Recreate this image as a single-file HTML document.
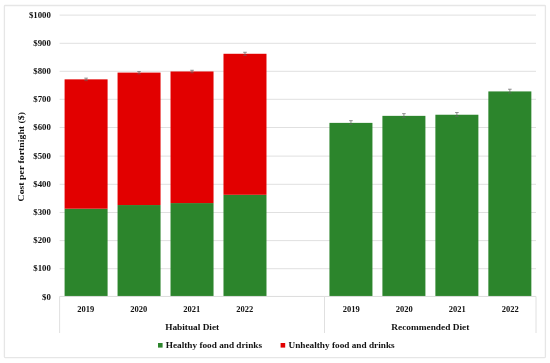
<!DOCTYPE html>
<html><head><meta charset="utf-8"><title>Cost per fortnight</title>
<style>
html,body{margin:0;padding:0;background:#fff;}
svg{display:block;}
.t{font-family:"Liberation Serif","DejaVu Serif",serif;font-weight:bold;fill:#111;}
</style></head><body>
<svg width="550" height="363" viewBox="0 0 550 363">
<rect width="550" height="363" fill="#fff"/>
<rect x="4.4" y="5.5" width="541" height="352.1" rx="0.8" fill="#fff" stroke="#e6e6e6" stroke-width="1.3"/>
<line x1="59.6" x2="536.0" y1="268.70" y2="268.70" stroke="#e0e0e0" stroke-width="1"/>
<line x1="59.6" x2="536.0" y1="240.60" y2="240.60" stroke="#e0e0e0" stroke-width="1"/>
<line x1="59.6" x2="536.0" y1="212.50" y2="212.50" stroke="#e0e0e0" stroke-width="1"/>
<line x1="59.6" x2="536.0" y1="184.30" y2="184.30" stroke="#e0e0e0" stroke-width="1"/>
<line x1="59.6" x2="536.0" y1="156.10" y2="156.10" stroke="#e0e0e0" stroke-width="1"/>
<line x1="59.6" x2="536.0" y1="127.50" y2="127.50" stroke="#e0e0e0" stroke-width="1"/>
<line x1="59.6" x2="536.0" y1="99.30" y2="99.30" stroke="#e0e0e0" stroke-width="1"/>
<line x1="59.6" x2="536.0" y1="71.30" y2="71.30" stroke="#e0e0e0" stroke-width="1"/>
<line x1="59.6" x2="536.0" y1="43.30" y2="43.30" stroke="#e0e0e0" stroke-width="1"/>
<line x1="59.6" x2="536.0" y1="15.10" y2="15.10" stroke="#e0e0e0" stroke-width="1"/>
<rect x="64.59" y="208.70" width="43.0" height="87.75" fill="#2c852c"/>
<rect x="64.59" y="79.35" width="43.0" height="129.35" fill="#e20000"/>
<g stroke="#666" stroke-width="0.8" fill="none" opacity="0.9"><line x1="86.09" x2="86.09" y1="78.15" y2="80.65"/><line x1="84.29" x2="87.89" y1="78.15" y2="78.15"/><line x1="84.29" x2="87.89" y1="80.65" y2="80.65" opacity="0.7"/></g>
<rect x="329.44" y="122.88" width="43.0" height="173.57" fill="#2c852c"/>
<g stroke="#666" stroke-width="0.8" fill="none" opacity="0.9"><line x1="350.94" x2="350.94" y1="120.68" y2="124.58"/><line x1="349.13" x2="352.74" y1="120.68" y2="120.68"/><line x1="349.13" x2="352.74" y1="124.58" y2="124.58" opacity="0.7"/></g>
<rect x="117.56" y="205.05" width="43.0" height="91.40" fill="#2c852c"/>
<rect x="117.56" y="72.60" width="43.0" height="132.44" fill="#e20000"/>
<g stroke="#666" stroke-width="0.8" fill="none" opacity="0.9"><line x1="139.06" x2="139.06" y1="71.40" y2="73.90"/><line x1="137.25" x2="140.86" y1="71.40" y2="71.40"/><line x1="137.25" x2="140.86" y1="73.90" y2="73.90" opacity="0.7"/></g>
<rect x="382.41" y="115.86" width="43.0" height="180.59" fill="#2c852c"/>
<g stroke="#666" stroke-width="0.8" fill="none" opacity="0.9"><line x1="403.91" x2="403.91" y1="113.66" y2="117.56"/><line x1="402.11" x2="405.71" y1="113.66" y2="113.66"/><line x1="402.11" x2="405.71" y1="117.56" y2="117.56" opacity="0.7"/></g>
<rect x="170.53" y="203.08" width="43.0" height="93.37" fill="#2c852c"/>
<rect x="170.53" y="71.48" width="43.0" height="131.60" fill="#e20000"/>
<g stroke="#666" stroke-width="0.8" fill="none" opacity="0.9"><line x1="192.03" x2="192.03" y1="70.28" y2="72.78"/><line x1="190.22" x2="193.83" y1="70.28" y2="70.28"/><line x1="190.22" x2="193.83" y1="72.78" y2="72.78" opacity="0.7"/></g>
<rect x="435.38" y="114.74" width="43.0" height="181.71" fill="#2c852c"/>
<g stroke="#666" stroke-width="0.8" fill="none" opacity="0.9"><line x1="456.88" x2="456.88" y1="112.54" y2="116.44"/><line x1="455.07" x2="458.68" y1="112.54" y2="112.54"/><line x1="455.07" x2="458.68" y1="116.44" y2="116.44" opacity="0.7"/></g>
<rect x="223.49" y="194.80" width="43.0" height="101.65" fill="#2c852c"/>
<rect x="223.49" y="53.78" width="43.0" height="141.01" fill="#e20000"/>
<g stroke="#666" stroke-width="0.8" fill="none" opacity="0.9"><line x1="244.99" x2="244.99" y1="52.28" y2="55.38"/><line x1="243.19" x2="246.79" y1="52.28" y2="52.28"/><line x1="243.19" x2="246.79" y1="55.38" y2="55.38" opacity="0.7"/></g>
<rect x="488.35" y="91.42" width="43.0" height="205.03" fill="#2c852c"/>
<g stroke="#666" stroke-width="0.8" fill="none" opacity="0.9"><line x1="509.85" x2="509.85" y1="89.22" y2="93.12"/><line x1="508.05" x2="511.65" y1="89.22" y2="89.22"/><line x1="508.05" x2="511.65" y1="93.12" y2="93.12" opacity="0.7"/></g>
<line x1="59.6" x2="536.0" y1="296.45" y2="296.45" stroke="#dcdcdc" stroke-width="1"/>
<line x1="59.6" x2="59.6" y1="296.45" y2="333" stroke="#e0e0e0" stroke-width="1"/>
<line x1="324.5" x2="324.5" y1="296.45" y2="333" stroke="#e0e0e0" stroke-width="1"/>
<line x1="536" x2="536" y1="296.45" y2="333" stroke="#e0e0e0" stroke-width="1"/>
<text x="50.9" y="299.50" text-anchor="end" font-size="8.6" class="t" textLength="8.8" lengthAdjust="spacingAndGlyphs">$0</text>
<text x="50.9" y="271.30" text-anchor="end" font-size="8.6" class="t" textLength="17.6" lengthAdjust="spacingAndGlyphs">$100</text>
<text x="50.9" y="243.10" text-anchor="end" font-size="8.6" class="t" textLength="17.6" lengthAdjust="spacingAndGlyphs">$200</text>
<text x="50.9" y="214.90" text-anchor="end" font-size="8.6" class="t" textLength="17.6" lengthAdjust="spacingAndGlyphs">$300</text>
<text x="50.9" y="186.70" text-anchor="end" font-size="8.6" class="t" textLength="17.6" lengthAdjust="spacingAndGlyphs">$400</text>
<text x="50.9" y="158.50" text-anchor="end" font-size="8.6" class="t" textLength="17.6" lengthAdjust="spacingAndGlyphs">$500</text>
<text x="50.9" y="130.30" text-anchor="end" font-size="8.6" class="t" textLength="17.6" lengthAdjust="spacingAndGlyphs">$600</text>
<text x="50.9" y="102.10" text-anchor="end" font-size="8.6" class="t" textLength="17.6" lengthAdjust="spacingAndGlyphs">$700</text>
<text x="50.9" y="73.90" text-anchor="end" font-size="8.6" class="t" textLength="17.6" lengthAdjust="spacingAndGlyphs">$800</text>
<text x="50.9" y="45.70" text-anchor="end" font-size="8.6" class="t" textLength="17.6" lengthAdjust="spacingAndGlyphs">$900</text>
<text x="50.9" y="17.50" text-anchor="end" font-size="8.6" class="t" textLength="22.0" lengthAdjust="spacingAndGlyphs">$1000</text>
<text x="85.79" y="311.8" text-anchor="middle" font-size="8.6" class="t" textLength="17" lengthAdjust="spacingAndGlyphs">2019</text>
<text x="351.24" y="311.8" text-anchor="middle" font-size="8.6" class="t" textLength="17" lengthAdjust="spacingAndGlyphs">2019</text>
<text x="138.75" y="311.8" text-anchor="middle" font-size="8.6" class="t" textLength="17" lengthAdjust="spacingAndGlyphs">2020</text>
<text x="404.21" y="311.8" text-anchor="middle" font-size="8.6" class="t" textLength="17" lengthAdjust="spacingAndGlyphs">2020</text>
<text x="191.72" y="311.8" text-anchor="middle" font-size="8.6" class="t" textLength="17" lengthAdjust="spacingAndGlyphs">2021</text>
<text x="457.18" y="311.8" text-anchor="middle" font-size="8.6" class="t" textLength="17" lengthAdjust="spacingAndGlyphs">2021</text>
<text x="244.69" y="311.8" text-anchor="middle" font-size="8.6" class="t" textLength="17" lengthAdjust="spacingAndGlyphs">2022</text>
<text x="510.15" y="311.8" text-anchor="middle" font-size="8.6" class="t" textLength="17" lengthAdjust="spacingAndGlyphs">2022</text>
<text x="192.2" y="330.1" text-anchor="middle" font-size="8.6" class="t" textLength="54" lengthAdjust="spacingAndGlyphs">Habitual Diet</text>
<text x="430.3" y="330.1" text-anchor="middle" font-size="8.6" class="t" textLength="78" lengthAdjust="spacingAndGlyphs">Recommended Diet</text>
<text transform="translate(23.9,156.7) rotate(-90)" text-anchor="middle" font-size="9.2" class="t" textLength="89.5" lengthAdjust="spacingAndGlyphs">Cost per fortnight ($)</text>
<rect x="158" y="343" width="4.6" height="4.6" fill="#2c852c"/>
<text x="165.8" y="347.8" text-anchor="start" font-size="8.6" class="t" textLength="96.2" lengthAdjust="spacingAndGlyphs">Healthy food and drinks</text>
<rect x="280.6" y="343" width="4.6" height="4.6" fill="#e20000"/>
<text x="288.5" y="347.8" text-anchor="start" font-size="8.6" class="t" textLength="106.2" lengthAdjust="spacingAndGlyphs">Unhealthy food and drinks</text>
</svg>
</body></html>
